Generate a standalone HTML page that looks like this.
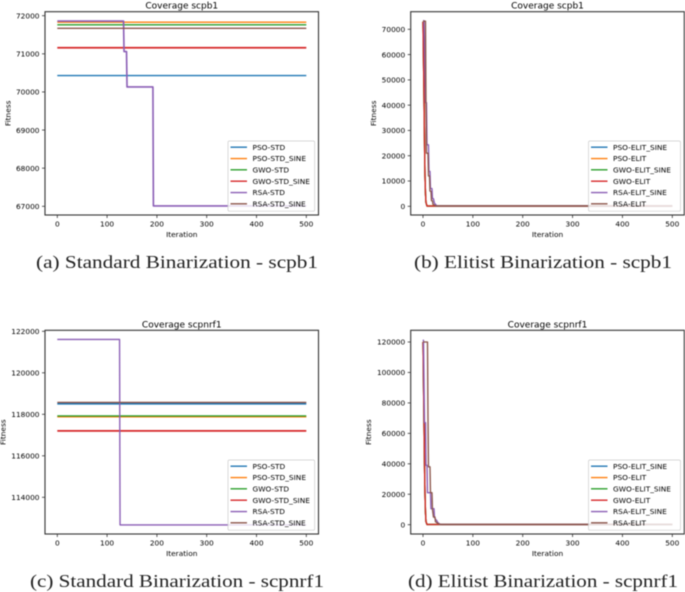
<!DOCTYPE html>
<html>
<head>
<meta charset="utf-8">
<title>Coverage charts</title>
<style>
html,body{margin:0;padding:0;background:#fff;width:685px;height:592px;overflow:hidden}
svg{display:block;filter:blur(0.4px)}
.tk{font-family:"DejaVu Sans","Liberation Sans",sans-serif;font-size:7.4px;fill:#000}
.ttl{font-family:"DejaVu Sans","Liberation Sans",sans-serif;font-size:9px;fill:#000}
.cap{font-family:"Liberation Serif",serif;font-size:18px;fill:#222}
</style>
</head>
<body>
<svg id="fig" xmlns="http://www.w3.org/2000/svg" width="685" height="592" viewBox="0 0 685 592">
<text class="cap" x="36" y="268" textLength="282" lengthAdjust="spacingAndGlyphs">(a) Standard Binarization - scpb1</text>
<text class="cap" x="414" y="268" textLength="258" lengthAdjust="spacingAndGlyphs">(b) Elitist Binarization - scpb1</text>
<text class="cap" x="30" y="587" textLength="294" lengthAdjust="spacingAndGlyphs">(c) Standard Binarization - scpnrf1</text>
<text class="cap" x="408" y="587" textLength="270" lengthAdjust="spacingAndGlyphs">(d) Elitist Binarization - scpnrf1</text>
</svg>
<script>
// ---- shared ticks ----
const xTickValues = [0, 100, 200, 300, 400, 500];
const flatIter = [0, 500];

// ---- panel (a) scpb1 standard ----
const aLabels = ['PSO-STD', 'PSO-STD_SINE', 'GWO-STD', 'GWO-STD_SINE', 'RSA-STD', 'RSA-STD_SINE'];
const aYTicks = [67000, 68000, 69000, 70000, 71000, 72000];
const aPsoStd = [70430, 70430];
const aPsoStdSine = [71830, 71830];
const aGwoStd = [71760, 71760];
const aGwoStdSine = [71160, 71160];
const aRsaStdIter = [0, 133, 134, 139, 140, 192, 193, 500];
const aRsaStd = [71860, 71860, 71060, 71060, 70130, 70130, 67010, 67010];
const aRsaStdSine = [71670, 71670];

// ---- panel (b) scpb1 elitist ----
const bLabels = ['PSO-ELIT_SINE', 'PSO-ELIT', 'GWO-ELIT_SINE', 'GWO-ELIT', 'RSA-ELIT_SINE', 'RSA-ELIT'];
const bYTicks = [0, 10000, 20000, 30000, 40000, 50000, 60000, 70000];
const bFastIter = [0, 2, 3, 4, 5, 6, 8, 500];
const bPsoSine = [73000, 43000, 26000, 12000, 5000, 1500, 120, 120];
const bPso = [73000, 43500, 26000, 12000, 5000, 1500, 130, 130];
const bGwoSine = [73000, 43000, 26000, 12000, 5000, 1500, 110, 110];
const bGwo = [73000, 43800, 26000, 12000, 5000, 1500, 100, 100];
const bRsaSineIter = [0, 2, 5, 7, 8, 11, 12, 14, 15, 18, 19, 21, 23, 28, 500];
const bRsaSine = [73400, 73400, 41000, 41000, 24300, 24300, 13800, 13800, 7000, 7000, 3000, 3000, 1200, 150, 150];
const bRsaIter = [0, 5, 6, 7, 10, 11, 13, 14, 16, 17, 19, 20, 26, 500];
const bRsa = [73200, 73200, 41000, 21000, 21000, 12000, 12000, 6000, 6000, 2200, 2200, 800, 150, 150];

// ---- panel (c) scpnrf1 standard ----
const cLabels = ['PSO-STD', 'PSO-STD_SINE', 'GWO-STD', 'GWO-STD_SINE', 'RSA-STD', 'RSA-STD_SINE'];
const cYTicks = [114000, 116000, 118000, 120000, 122000];
const cPsoStd = [118510, 118510];
const cPsoStdSine = [117880, 117880];
const cGwoStd = [117920, 117920];
const cGwoStdSine = [117200, 117200];
const cRsaStdIter = [0, 125, 126, 500];
const cRsaStd = [121610, 121610, 112670, 112670];
const cRsaStdSine = [118570, 118570];

// ---- panel (d) scpnrf1 elitist ----
const dLabels = ['PSO-ELIT_SINE', 'PSO-ELIT', 'GWO-ELIT_SINE', 'GWO-ELIT', 'RSA-ELIT_SINE', 'RSA-ELIT'];
const dYTicks = [0, 20000, 40000, 60000, 80000, 100000, 120000];
const dFastIter = [0, 2, 3, 4, 5, 6, 8, 500];
const dPsoSine = [120000, 67000, 40000, 20000, 8000, 2000, 150, 150];
const dPso = [120000, 67500, 40000, 20000, 8000, 2000, 160, 160];
const dGwoSine = [120000, 67000, 40000, 20000, 8000, 2000, 140, 140];
const dGwo = [120000, 67200, 40000, 20000, 8000, 2000, 130, 130];
const dRsaSineIter = [0, 1, 3, 5, 6, 8, 9, 15, 16, 22, 23, 25, 27, 30, 35, 500];
const dRsaSine = [121500, 121000, 67000, 67000, 39000, 39000, 21000, 21000, 10500, 10500, 5000, 3500, 3000, 1200, 200, 200];
const dRsaIter = [0, 1, 9, 10, 11, 14, 15, 18, 19, 21, 24, 25, 30, 36, 500];
const dRsa = [120000, 120000, 120000, 70000, 38000, 38000, 21000, 21000, 10000, 5000, 5000, 2000, 800, 150, 150];

// ---- layout and style (not data) ----
const colors = ['#1f77b4', '#ff7f0e', '#2ca02c', '#d62728', '#8a5db5', '#8c564b'];
const NS = 'http://www.w3.org/2000/svg';
const fig = document.getElementById('fig');

function node(parent, tag, attrs, text) {
  const el = document.createElementNS(NS, tag);
  for (const k in attrs) el.setAttribute(k, attrs[k]);
  if (text !== undefined) el.textContent = text;
  parent.appendChild(el);
  return el;
}
function linear(d0, d1, r0, r1) {
  return v => r0 + (v - d0) * (r1 - r0) / (d1 - d0);
}

function drawPanel(p) {
  const g = node(fig, 'g', {});
  
  
  const xS = linear(0, 500, p.x0, p.x500);
  const yS = linear(p.yA, p.yB, p.pyA, p.pyB);

  // series
  p.series.forEach((s, i) => {
    const pts = s.iter.map((it, j) => xS(it).toFixed(2) + ',' + yS(s.vals[j]).toFixed(2)).join(' ');
    const line = node(g, 'polyline', {points: pts, fill: 'none', stroke: colors[i], 'stroke-width': s.w || 1.35, 'stroke-linejoin': 'round'});
    
    
  });

  // frame
  const frame = node(g, 'rect', {x: p.left, y: p.top, width: p.right - p.left, height: p.bottom - p.top, fill: 'none', stroke: '#333', 'stroke-width': 1.1});
  
  

  // x axis
  const xAxis = node(g, 'g', {});
  
  
  xTickValues.forEach(v => {
    const px = xS(v);
    node(xAxis, 'line', {x1: px, x2: px, y1: p.bottom, y2: p.bottom + 3, stroke: '#333', 'stroke-width': 0.8});
    const t = node(xAxis, 'text', {class: 'tk', x: px, y: p.bottom + 11.6, 'text-anchor': 'middle'}, String(v));
    
    
  });
  const xTitle = node(g, 'text', {class: 'tk', x: (p.left + p.right) / 2, y: p.bottom + 22, 'text-anchor': 'middle'}, 'Iteration');
  
  

  // y axis
  const yAxis = node(g, 'g', {});
  
  
  p.yTicks.forEach(v => {
    const py = yS(v);
    node(yAxis, 'line', {x1: p.left - 3, x2: p.left, y1: py, y2: py, stroke: '#333', 'stroke-width': 0.8});
    const t = node(yAxis, 'text', {class: 'tk', x: p.left - 5.5, y: py + 2.7, 'text-anchor': 'end'}, String(v));
    
    
  });
  const yc = (p.top + p.bottom) / 2;
  const yTitle = node(g, 'text', {class: 'tk', x: p.yTitleX, y: yc, 'text-anchor': 'middle', transform: 'rotate(-90 ' + p.yTitleX + ' ' + yc + ')'}, 'Fitness');
  
  

  // title
  const title = node(g, 'text', {class: 'ttl', x: (p.left + p.right) / 2, y: p.top - 3, 'text-anchor': 'middle'}, p.title);
  
  

  // legend
  const lg = node(g, 'g', {});
  
  
  const lw = p.legendW, lx = p.right - 3.8 - lw, ly = p.bottom - 74;
  node(lg, 'rect', {x: lx, y: ly, width: lw, height: 70.2, rx: 1.5, fill: '#fff', 'fill-opacity': 0.8, stroke: '#ccc', 'stroke-width': 0.7});
  p.labels.forEach((lab, i) => {
    const ey = ly + 6.2 + i * 11.33;
    node(lg, 'line', {x1: lx + 2.5, x2: lx + 19, y1: ey, y2: ey, stroke: colors[i], 'stroke-width': 1.35});
    const t = node(lg, 'text', {class: 'tk', x: lx + 24.5, y: ey + 2.7}, lab);
    
    
  });
}

drawPanel({
  id: 'a', title: 'Coverage scpb1', labels: aLabels, yTicks: aYTicks,
  left: 45, right: 318.5, top: 11.7, bottom: 215, x0: 57.3, x500: 306.3,
  yA: 67000, yB: 72000, pyA: 206.3, pyB: 15.7, yTitleX: 10.5, legendW: 86.7,
  series: [
    {iter: flatIter, vals: aPsoStd},
    {iter: flatIter, vals: aPsoStdSine},
    {iter: flatIter, vals: aGwoStd},
    {iter: flatIter, vals: aGwoStdSine, w: 1.7},
    {iter: aRsaStdIter, vals: aRsaStd, w: 1.6},
    {iter: flatIter, vals: aRsaStdSine}
  ]
});
drawPanel({
  id: 'b', title: 'Coverage scpb1', labels: bLabels, yTicks: bYTicks,
  left: 410.7, right: 684.3, top: 11.7, bottom: 215, x0: 423, x500: 672.3,
  yA: 0, yB: 70000, pyA: 206.3, pyB: 29.3, yTitleX: 376, legendW: 92,
  series: [
    {iter: bFastIter, vals: bPsoSine},
    {iter: bFastIter, vals: bPso},
    {iter: bFastIter, vals: bGwoSine},
    {iter: bFastIter, vals: bGwo},
    {iter: bRsaSineIter, vals: bRsaSine},
    {iter: bRsaIter, vals: bRsa}
  ]
});
drawPanel({
  id: 'c', title: 'Coverage scpnrf1', labels: cLabels, yTicks: cYTicks,
  left: 45, right: 318.5, top: 330.3, bottom: 534, x0: 57.3, x500: 306.3,
  yA: 114000, yB: 122000, pyA: 497.3, pyB: 331.3, yTitleX: 5.5, legendW: 86.7,
  series: [
    {iter: flatIter, vals: cPsoStd, w: 1.7},
    {iter: flatIter, vals: cPsoStdSine},
    {iter: flatIter, vals: cGwoStd},
    {iter: flatIter, vals: cGwoStdSine, w: 1.7},
    {iter: cRsaStdIter, vals: cRsaStd},
    {iter: flatIter, vals: cRsaStdSine}
  ]
});
drawPanel({
  id: 'd', title: 'Coverage scpnrf1', labels: dLabels, yTicks: dYTicks,
  left: 410.7, right: 684.3, top: 330.3, bottom: 534, x0: 423, x500: 672.3,
  yA: 0, yB: 120000, pyA: 524.7, pyB: 342, yTitleX: 371, legendW: 92,
  series: [
    {iter: dFastIter, vals: dPsoSine},
    {iter: dFastIter, vals: dPso},
    {iter: dFastIter, vals: dGwoSine},
    {iter: dFastIter, vals: dGwo},
    {iter: dRsaSineIter, vals: dRsaSine},
    {iter: dRsaIter, vals: dRsa}
  ]
});
</script>
</body>
</html>
